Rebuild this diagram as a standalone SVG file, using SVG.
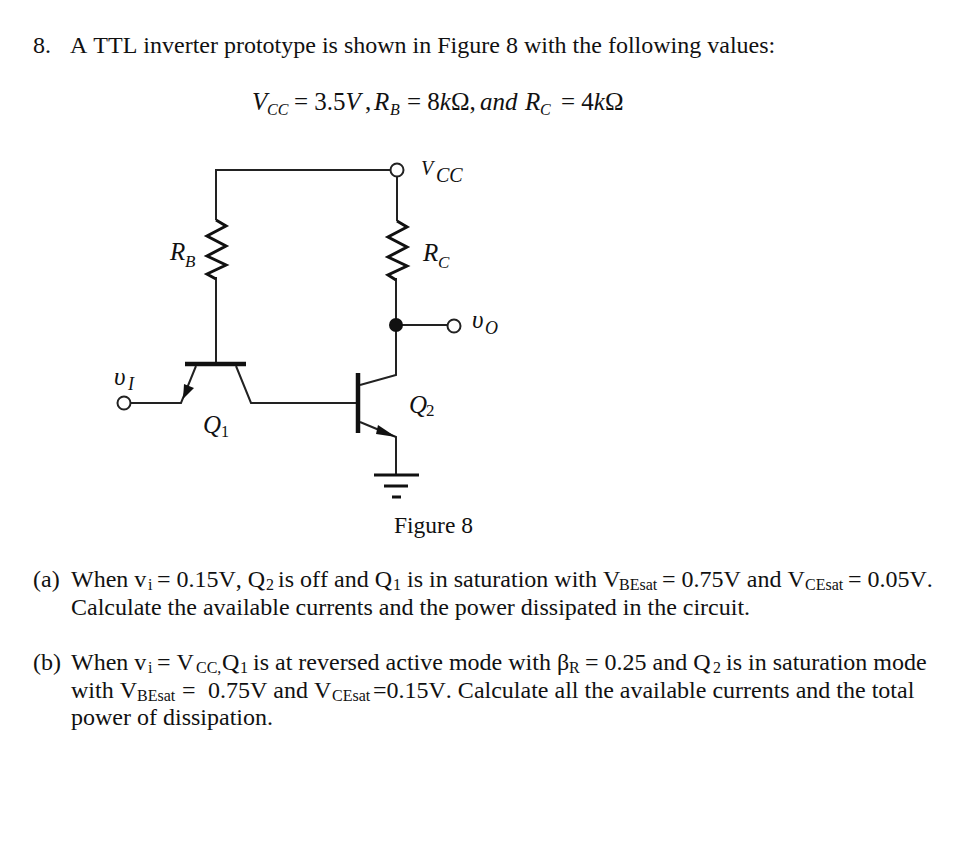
<svg xmlns="http://www.w3.org/2000/svg" width="974" height="844" viewBox="0 0 974 844">
<style>
text{font-family:"Liberation Serif","Times New Roman",serif;fill:#111;font-size:24px;font-kerning:none}
.i{font-style:italic}
.s{font-size:16px}
.c{font-size:25px;font-style:italic}
.cs{font-size:20px;font-style:italic}
.w{fill:none;stroke:#222;stroke-width:2}
.r{fill:none;stroke:#111;stroke-width:3}
.g{fill:none;stroke:#111;stroke-width:3}
.b{fill:none;stroke:#111;stroke-width:4.5}
.t{fill:#fff;stroke:#222;stroke-width:2}
.a{fill:#111;stroke:none}
</style>
<rect width="974" height="844" fill="#fff"/>
<g id="connectors">
<path class="w" d="M391 170H216V220M216 277V364"/>
<path class="w" d="M397 176V221M396 278V375L360 385"/>
<path class="w" d="M396 325H448"/>
<path class="w" d="M130 403H181L196 366"/>
<path class="w" d="M236 366L251 403H357"/>
<path class="w" d="M360 422L396 437V475"/>
</g>
<g id="RB"><path class="r" d="M216 220L226 226L207 236L226 246L207 256L226 265L207 274L216 279"/><text class="c" x="170" y="260">R</text><text class="cs" x="185" y="267" style="font-size:17px">B</text></g>
<g id="RC"><path class="r" d="M397 221L407 227L388 237L407 247L388 257L407 266L388 275L396 280"/><text class="c" x="423" y="261">R</text><text class="cs" x="438" y="268" style="font-size:17px">C</text></g>
<g id="Vcc"><circle class="t" cx="397" cy="170" r="6.5"/><text class="cs" x="421" y="175">V</text><text class="cs" x="436" y="182">CC</text></g>
<g id="Vo"><circle cx="396" cy="325" r="7" fill="#111"/><circle class="t" cx="454" cy="326" r="6.5"/><text class="c" x="472" y="328">υ</text><text class="cs" x="485" y="334" style="font-size:18px">O</text></g>
<g id="Vi"><circle class="t" cx="124" cy="403" r="6.5"/><text class="c" x="114" y="385">υ</text><text class="cs" x="128" y="390" style="font-size:18px">I</text></g>
<g id="Q1"><path class="b" d="M185 364H246"/><path class="a" d="M183 399L184 384L194 388Z"/><text class="c" x="203" y="433">Q</text><text x="221" y="437" style="font-size:16px">1</text></g>
<g id="Q2"><path class="b" d="M358 373V433"/><path class="a" d="M396 437L378 425L376 434Z"/><text class="c" x="409" y="413">Q</text><text x="426" y="416" style="font-size:17px">2</text></g>
<g id="GND"><path class="g" d="M374 475H419M384 486H408M392 497H401"/></g>
<text x="33" y="53">8.</text>
<text x="70" y="53">A TTL inverter prototype is shown in Figure 8 with the following values:</text>
<g id="eq">
<text class="i" x="252" y="110" style="font-size:25px">V</text><text class="i s" x="267" y="115">CC</text><text x="294" y="110" style="font-size:25px">= 3.5<tspan class="i">V</tspan></text><text x="365" y="110" style="font-size:25px">,</text><text class="i" x="374" y="110" style="font-size:25px">R</text><text class="i s" x="390" y="115">B</text><text x="407" y="110" style="font-size:25px">= 8<tspan class="i">k</tspan>Ω,</text><text class="i" x="480" y="110" style="font-size:25px">and</text><text class="i" x="525" y="110" style="font-size:25px">R</text><text class="i s" x="540" y="115">C</text><text x="561" y="110" style="font-size:25px">= 4<tspan class="i">k</tspan>Ω</text>
</g>
<text x="394" y="533" style="font-size:23.5px">Figure 8</text>
<g id="a">
<text x="33" y="587">(a)</text>
<text x="71" y="587">When v</text><text class="s" x="148" y="590">i</text><text x="157" y="587">= 0.15V, Q</text><text class="s" x="266" y="590">2</text><text x="278" y="587">is off and Q</text><text class="s" x="393" y="590">1</text><text x="407" y="587">is in saturation with V</text><text class="s" x="619" y="590">BEsat</text><text x="662" y="587">= 0.75V and V</text><text class="s" x="805" y="590">CEsat</text><text x="848" y="587">= 0.05V.</text>
<text x="71" y="615">Calculate the available currents and the power dissipated in the circuit.</text>
</g>
<g id="b">
<text x="33" y="670">(b)</text>
<text x="71" y="670">When v</text><text class="s" x="148" y="673">i</text><text x="157" y="670">= V</text><text class="s" x="196" y="673">CC,</text><text x="222" y="670">Q</text><text class="s" x="240" y="673">1</text><text x="253" y="670">is at reversed active mode with β</text><text class="s" x="569" y="673">R</text><text x="585" y="670">= 0.25 and Q</text><text class="s" x="713" y="673">2</text><text x="726" y="670">is in saturation mode</text>
<text x="71" y="698">with V</text><text class="s" x="137" y="701">BEsat</text><text x="182" y="698">=</text><text x="208" y="698">0.75V and V</text><text class="s" x="332" y="701">CEsat</text><text x="373" y="698">=0.15V. Calculate all the available currents and the total</text>
<text x="71" y="725">power of dissipation.</text>
</g>
</svg>
